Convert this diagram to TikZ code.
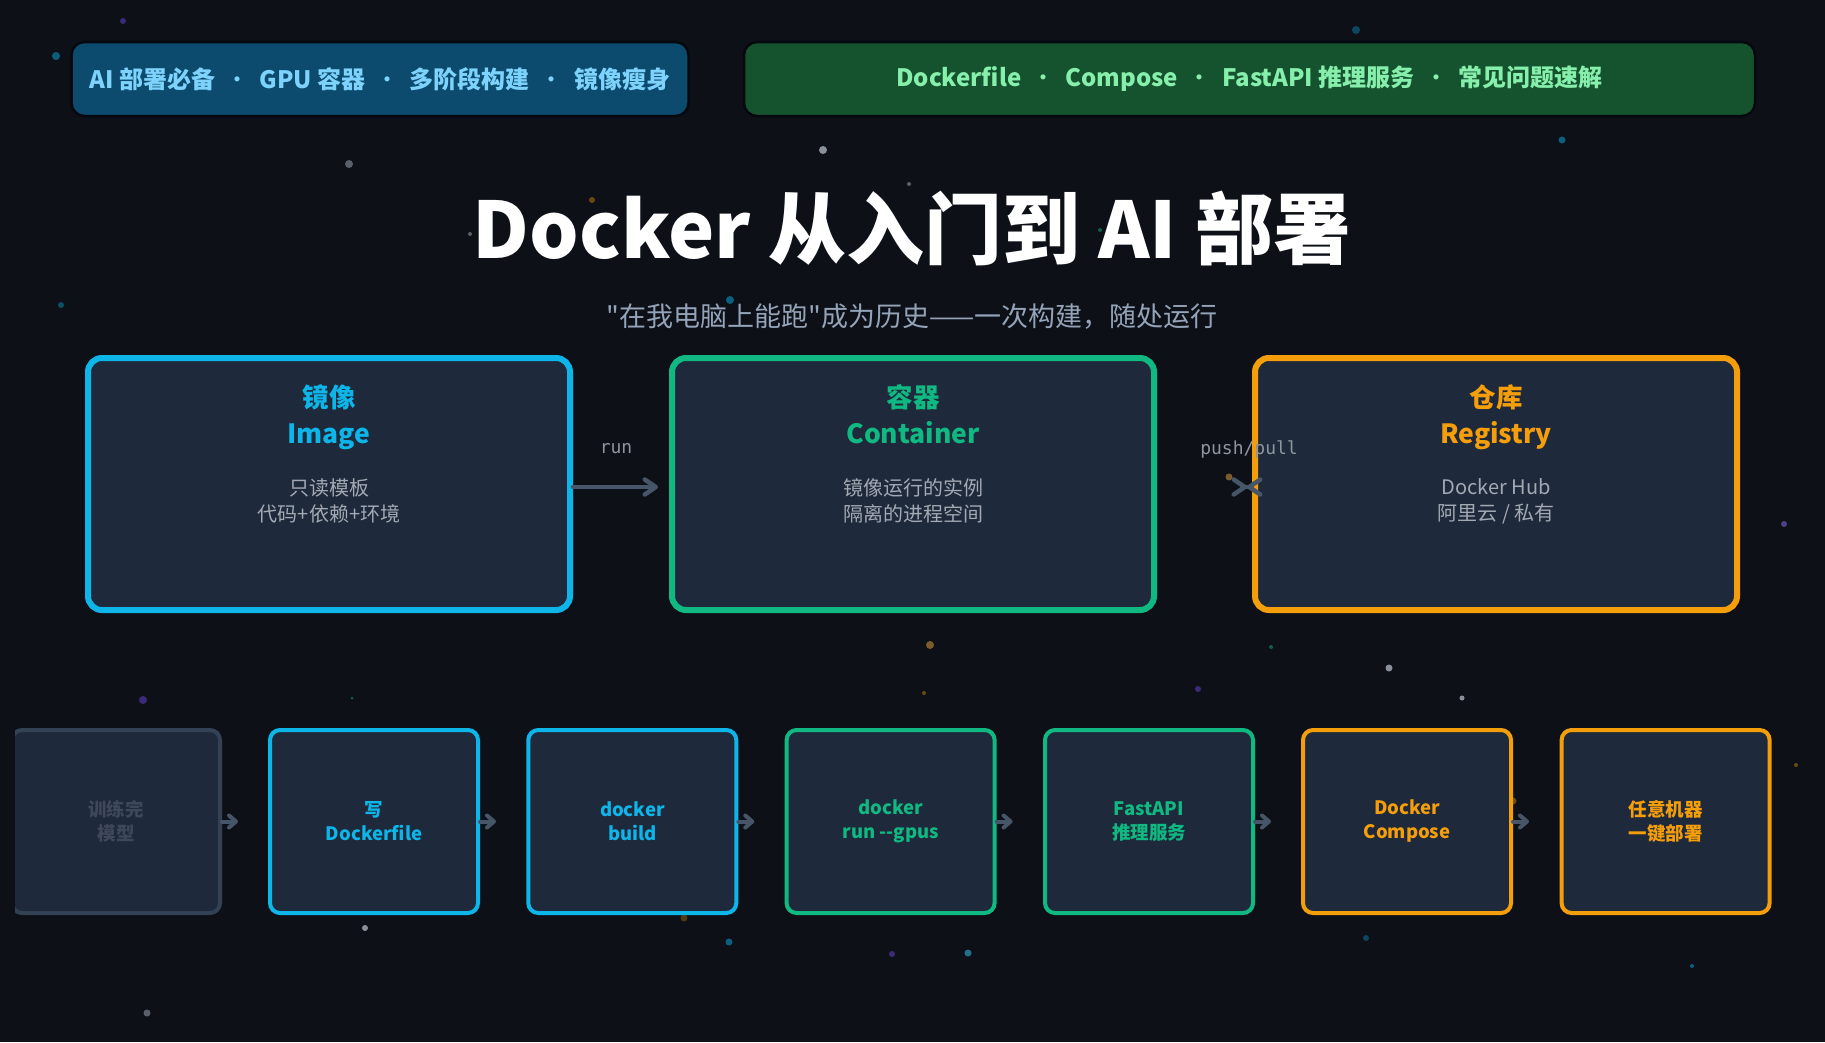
\documentclass[tikz,border=0pt]{standalone}
\usepackage{fontspec}
\newfontfamily\cjkfont{Noto Sans CJK SC}
\newfontfamily\labelmono{DejaVu Sans Mono}
\usetikzlibrary{arrows.meta}

\definecolor{bgc}{HTML}{0D1117}
\definecolor{pillblue}{HTML}{0C4A6E}
\definecolor{pillbluetext}{HTML}{7DD3FC}
\definecolor{pillgreen}{HTML}{15532E}
\definecolor{pillgreentext}{HTML}{86EFAC}
\definecolor{pilledge}{HTML}{05080D}
\definecolor{boxfill}{HTML}{1E293B}
\definecolor{skyc}{HTML}{0EB5E9}
\definecolor{emer}{HTML}{10B981}
\definecolor{amber}{HTML}{F59E0B}
\definecolor{dimedge}{HTML}{334155}
\definecolor{dimtext}{HTML}{3E4858}
\definecolor{arrowc}{HTML}{475569}
\definecolor{descc}{HTML}{A3A9B3}
\definecolor{subc}{HTML}{94A3B8}
\definecolor{labelc}{HTML}{8E959E}
\definecolor{dotgray}{HTML}{5A606A}
\definecolor{dotlight}{HTML}{8A9099}
\definecolor{dotcyan}{HTML}{0B5E7E}
\definecolor{dotpurple}{HTML}{3B2A78}
\definecolor{dotorange}{HTML}{6B4A12}
\definecolor{dotgreen}{HTML}{0E5E48}

\newcommand{\pillsep}{\hspace{0.42em}{\mdseries·}\hspace{0.42em}}

\begin{document}
\cjkfont
\begin{tikzpicture}[x=1pt, y=-1pt,
    pill/.style={draw=pilledge, line width=2.5pt, rounded corners=13pt, minimum height=74pt, inner sep=0pt, font=\fontsize{24}{28}\selectfont\bfseries},
    bigbox/.style={fill=boxfill, line width=6pt, rounded corners=14pt, minimum width=482pt, minimum height=252pt, inner sep=0pt},
    stepbox/.style={fill=boxfill, line width=4pt, rounded corners=10pt, minimum width=208pt, minimum height=183pt, inner sep=0pt, align=center, font=\fontsize{18.5}{24}\selectfont\bfseries},
    headcn/.style={anchor=base, inner sep=0pt, font=\fontsize{26.5}{30}\selectfont\bfseries},
    headen/.style={anchor=base, inner sep=0pt, font=\fontsize{26.5}{30}\selectfont\bfseries},
    desc/.style={text=descc, inner sep=0pt, align=center, font=\fontsize{20}{26}\selectfont},
    flow/.style={draw=arrowc, line width=4.5pt, line cap=round, -{Straight Barb[round, length=11pt, width=15pt]}},
    minor/.style={draw=arrowc, line width=4pt, line cap=round, -{Straight Barb[round, length=7pt, width=12pt]}},
    conlabel/.style={text=labelc, inner sep=0pt, font=\labelmono\fontsize{18}{20}\selectfont}
]
    \fill[bgc] (0,0) rectangle (1825,1042);
    \useasboundingbox (0,0) rectangle (1825,1042);

    \fill[dotpurple] (123,21) circle (3);
    \fill[dotcyan] (56,56) circle (4);
    \fill[dotgray] (349,164) circle (4);
    \fill[dotlight] (823,150) circle (4);
    \fill[dotgray] (909,184) circle (2);
    \fill[dotcyan!70!bgc] (1356,30) circle (4);
    \fill[dotcyan] (1562,140) circle (3.5);
    \fill[dotorange] (592,200) circle (3);
    \fill[dotgray] (470,234) circle (2);
    \fill[dotgreen] (1100,230) circle (2);
    \fill[dotcyan] (730,300) circle (4);
    \fill[dotcyan!80!bgc] (61,305) circle (3);
    \fill[dotorange!90!white] (1229,477) circle (3.5);
    \fill[dotpurple!90!white] (1784,524) circle (3);
    \fill[dotorange!90!white] (930,645) circle (4);
    \fill[dotgreen] (1271,647) circle (2);
    \fill[dotlight] (1389,668) circle (3.5);
    \fill[dotpurple] (1198,689) circle (3);
    \fill[dotorange] (924,693) circle (2);
    \fill[dotlight] (1462,698) circle (2.5);
    \fill[dotpurple] (143,700) circle (4);
    \fill[dotgreen] (352,698) circle (1.5);
    \fill[dotorange] (1796,765) circle (2);
    \fill[dotorange] (1513,801) circle (3.5);
    \fill[dotlight] (365,928) circle (3);
    \fill[dotorange!70!bgc] (684,918) circle (3.5);
    \fill[dotcyan] (729,942) circle (3.5);
    \fill[dotpurple] (892,954) circle (3);
    \fill[dotcyan!90!white] (968,953) circle (3.5);
    \fill[dotcyan!70!bgc] (1366,938) circle (3);
    \fill[dotcyan] (1692,966) circle (2);
    \fill[dotgray] (147,1013) circle (3.5);

    \node[pill, fill=pillblue, text=pillbluetext, minimum width=617pt] (tagsai) at (380,79)
        {AI 部署必备\pillsep GPU 容器\pillsep 多阶段构建\pillsep 镜像瘦身};
    \node[pill, fill=pillgreen, text=pillgreentext, minimum width=1011pt] (tagsdev) at (1249.5,79)
        {Dockerfile\pillsep Compose\pillsep FastAPI 推理服务\pillsep 常见问题速解};

    \node[anchor=base, inner sep=0pt, text=white, font=\fontsize{78}{90}\selectfont\bfseries] (title) at (912,258)
        {Docker 从入门到 AI 部署};
    \node[anchor=base, inner sep=0pt, text=subc, font=\fontsize{27}{30}\selectfont] (subtitle) at (912,326)
        {"在我电脑上能跑"成为历史——一次构建，随处运行};

    \node[bigbox, draw=skyc] (img) at (329,484) {};
    \node[headcn, text=skyc] (imgcn) at (329,407) {镜像};
    \node[headen, text=skyc] (imgen) at (329,443) {Image};
    \node[desc] (imgdesc) at (329,501) {只读模板\\代码+依赖+环境};

    \node[bigbox, draw=emer] (cont) at (913,484) {};
    \node[headcn, text=emer] (contcn) at (913,407) {容器};
    \node[headen, text=emer] (conten) at (913,443) {Container};
    \node[desc] (contdesc) at (913,501) {镜像运行的实例\\隔离的进程空间};

    \node[bigbox, draw=amber] (reg) at (1496,484) {};
    \node[headcn, text=amber] (regcn) at (1496,407) {仓库};
    \node[headen, text=amber] (regen) at (1496,443) {Registry};
    \node[desc] (regdesc) at (1496,501) {Docker Hub\\阿里云 / 私有};

    \draw[flow] ([yshift=-3pt]img.east) -- ([xshift=-11pt, yshift=-3pt]cont.west);
    \node[conlabel] (runlabel) at (616,449) {run};
    \draw[flow] ([xshift=-6pt, yshift=-3pt]reg.west) -- ([xshift=-5pt, yshift=-3pt]reg.west);
    \draw[flow] ([xshift=-4pt, yshift=-3pt]reg.west) -- ([xshift=-5pt, yshift=-3pt]reg.west);
    \node[conlabel] (pplabel) at (1249,449) {push/pull};

    \begin{scope}
        \clip (15,700) rectangle (260,940);
        \node[stepbox, draw=dimedge, text=dimtext] (s1) at (116,821.5) {训练完\\模型};
    \end{scope}
    \node[stepbox, draw=skyc, text=skyc] (s2) at (374,821.5) {写\\Dockerfile};
    \node[stepbox, draw=skyc, text=skyc] (s3) at (632.3,821.5) {docker\\build};
    \node[stepbox, draw=emer, text=emer] (s4) at (890.6,821.5) {docker\\run --gpus};
    \node[stepbox, draw=emer, text=emer] (s5) at (1149,821.5) {FastAPI\\推理服务};
    \node[stepbox, draw=amber, text=amber] (s6) at (1407,821.5) {Docker\\Compose};
    \node[stepbox, draw=amber, text=amber] (s7) at (1665.6,821.5) {任意机器\\一键部署};

    \draw[minor] (s1.east) -- ([xshift=16pt]s1.east);
    \draw[minor] (s2.east) -- ([xshift=16pt]s2.east);
    \draw[minor] (s3.east) -- ([xshift=16pt]s3.east);
    \draw[minor] (s4.east) -- ([xshift=16pt]s4.east);
    \draw[minor] (s5.east) -- ([xshift=16pt]s5.east);
    \draw[minor] (s6.east) -- ([xshift=16pt]s6.east);
\end{tikzpicture}
\end{document}
